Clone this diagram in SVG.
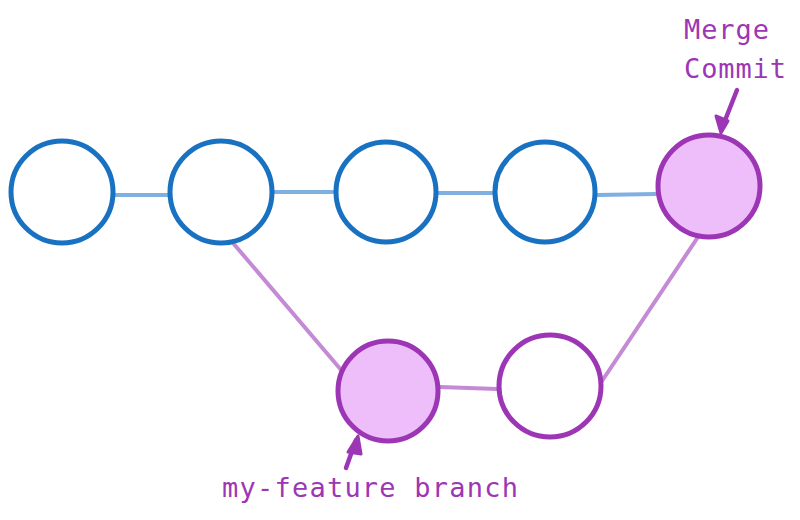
<svg xmlns="http://www.w3.org/2000/svg" width="800" height="520" viewBox="0 0 800 520">
<style>
.blue{fill:#ffffff;stroke:#1971c2;stroke-width:5}
.pw{fill:#ffffff;stroke:#9c36b5;stroke-width:5}
.pf{fill:#eebefa;stroke:#9c36b5;stroke-width:5}
.cb{stroke:#7fb0e0;stroke-width:4;stroke-linecap:round;fill:none}
.cp{stroke:#c48ad6;stroke-width:4;stroke-linecap:round;fill:none}
.arr{stroke:#9c36b5;stroke-width:4.5;stroke-linecap:round;fill:none}
.lbl{font-family:"DejaVu Sans Mono","Liberation Mono",monospace;font-size:27px;fill:#9c36b5}
</style>
<rect width="800" height="520" fill="#ffffff"/>
<g id="connectors">
<line class="cb" x1="115" y1="195" x2="168" y2="195"/>
<line class="cb" x1="274" y1="192" x2="333" y2="192"/>
<line class="cb" x1="438" y1="193" x2="493" y2="193"/>
<line class="cb" x1="598" y1="195" x2="656" y2="194"/>
<line class="cp" x1="233" y1="243" x2="342" y2="371"/>
<line class="cp" x1="440" y1="387" x2="497" y2="389"/>
<line class="cp" x1="602" y1="381" x2="698" y2="237"/>
</g>
<g id="n1"><circle class="blue" cx="62" cy="192" r="51"/></g>
<g id="n2"><circle class="blue" cx="221" cy="192" r="51"/></g>
<g id="n3"><circle class="blue" cx="386" cy="192" r="50"/></g>
<g id="n4"><circle class="blue" cx="545" cy="192" r="50"/></g>
<g id="n5"><circle class="pf" cx="709" cy="186" r="51"/></g>
<g id="n6"><circle class="pf" cx="388" cy="391" r="50"/></g>
<g id="n7"><circle class="pw" cx="550" cy="386" r="51"/></g>
<g id="merge-label">
<text class="lbl" x="684" y="39" textLength="85">Merge</text>
<text class="lbl" x="684" y="78" textLength="102">Commit</text>
<path class="arr" d="M737 90 L722 128"/>
<path d="M721 133 L716 116 L728 121 Z" fill="#9c36b5" stroke="#9c36b5" stroke-width="3" stroke-linejoin="round"/>
</g>
<g id="feature-label">
<text class="lbl" x="222" y="497" textLength="296">my-feature branch</text>
<path class="arr" d="M346 468 L356 440"/>
<path d="M358 436 L348 452 L361 454 Z" fill="#9c36b5" stroke="#9c36b5" stroke-width="3" stroke-linejoin="round"/>
</g>
</svg>
